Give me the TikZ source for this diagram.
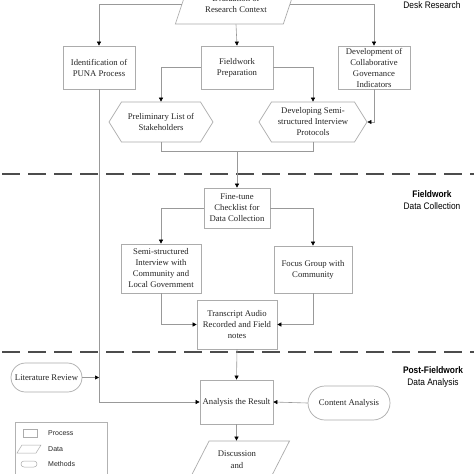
\documentclass[tikz,border=0pt]{standalone}
\usepackage{fontspec}
\setmainfont{Liberation Serif}
\newfontfamily\lblsans[FakeStretch=0.88]{Liberation Sans}
\newfontfamily\legsans{Liberation Sans}
\usetikzlibrary{shapes.geometric,shapes.symbols,shapes.misc,arrows.meta}
\begin{document}
\begin{tikzpicture}[x=1pt,y=-1pt,
  every node/.style={font=\fontsize{8.7}{11}\selectfont, text=black!85, align=center, inner sep=1pt},
  procbox/.style={draw=gray!65, line width=0.7pt, rectangle},
  databox/.style={draw=gray!65, line width=0.7pt, trapezium, trapezium left angle=65, trapezium right angle=115, trapezium stretches=true},
  hexabox/.style={draw=gray!65, line width=0.7pt, signal, signal to=west and east, signal pointer angle=116},
  methodbox/.style={draw=gray!65, line width=0.7pt, rounded rectangle},
  conn/.style={draw=gray!80, line width=0.6pt, -{Triangle[length=4pt,width=4pt,color=black]}},
  plainline/.style={draw=gray!80, line width=0.6pt},
  dashbar/.style={draw=black!70, line width=1.8pt, dash pattern=on 18pt off 8pt, dash phase=-2pt},
  phaselbl/.style={font=\lblsans\fontsize{9.5}{12}\selectfont, text=black},
  legtext/.style={font=\legsans\fontsize{7}{8}\selectfont, text=black!85, anchor=west, inner sep=0pt},
  legshape/.style={draw=gray!65, line width=0.5pt}]
\clip (0,0) rectangle (474,474);
\fill[white] (0,0) rectangle (474,474);

% phase separators
\draw[dashbar] (0,174) -- (474,174);
\draw[dashbar] (0,352) -- (474,352);

% phase labels
\node[phaselbl] (deskl) at (432,5) {Desk Research};
\node[phaselbl] (fieldl) at (432,200) {\textbf{Fieldwork}\\Data Collection};
\node[phaselbl] (postl) at (433,377) {\textbf{Post-Fieldwork}\\Data Analysis};

% desk research
\node[databox, minimum width=122pt, minimum height=40pt] (eval) at (236,4) {Evaluation of\\Research Context};
\node[procbox, minimum width=72pt, minimum height=43pt] (ident) at (99,67.5) {Identification of\\PUNA Process};
\node[procbox, minimum width=72pt, minimum height=43pt] (fprep) at (237,67.5) {Fieldwork\\Preparation};
\node[procbox, minimum width=72pt, minimum height=43pt] (devcg) at (374,67.5) {Development of\\Collaborative\\Governance\\Indicators};
\node[hexabox, minimum width=104pt, minimum height=40pt] (prelim) at (161,122) {Preliminary List of\\Stakeholders};
\node[hexabox, minimum width=108pt, minimum height=40pt] (devsemi) at (313,122) {Developing Semi-\\structured Interview\\Protocols};
\coordinate (merge) at (237,151);

% fieldwork
\node[procbox, minimum width=66pt, minimum height=40pt] (fine) at (237,208) {Fine-tune\\Checklist for\\Data Collection};
\node[procbox, minimum width=80pt, minimum height=49pt] (semi) at (161,268.5) {Semi-structured\\Interview with\\Community and\\Local Government};
\node[procbox, minimum width=78pt, minimum height=47pt] (focus) at (313,269.5) {Focus Group with\\Community};
\node[procbox, minimum width=80pt, minimum height=49pt] (trans) at (237,324.5) {Transcript Audio\\Recorded and Field\\notes};

% post-fieldwork
\node[procbox, minimum width=73pt, minimum height=44pt] (anal) at (236.5,402) {Analysis the Result};
\node[methodbox, minimum width=73pt, minimum height=29pt] (lit) at (46.5,377.5) {Literature Review};
\node[methodbox, minimum width=84pt, minimum height=34pt] (content) at (349,403) {Content Analysis};
\node[databox, minimum width=106pt, minimum height=50pt] (disc) at (236.5,466) {};
\node (disctext) at (237,460) {Discussion\\[1pt]and};

% connectors
\draw[conn] (eval.west) -| (ident.north);
\draw[conn] (eval.east) -| (devcg.north);
\draw[conn] (eval.south) -- (fprep.north);
\draw[conn] (fprep.west) -| (prelim.north);
\draw[conn] (fprep.east) -| (devsemi.north);
\draw[conn] (devcg.south) |- (devsemi.east);
\draw[plainline] (prelim.south) |- (merge);
\draw[plainline] (devsemi.south) |- (merge);
\draw[conn] (merge) -- (fine.north);
\draw[conn] (fine.west) -| (semi.north);
\draw[conn] (fine.east) -| (focus.north);
\draw[conn] (semi.south) |- (trans.west);
\draw[conn] (focus.south) |- (trans.east);
\draw[conn] (trans.south) -- (anal.north);
\draw[conn] (ident.south) |- (anal.west);
\draw[conn] (lit.east) -- (lit.east -| ident.south);
\draw[conn] (content.west) -- (anal.east);
\draw[conn] (anal.south) -- (disc.north);

% legend
\draw[legshape, draw=gray!60] (15,422) rectangle (107,490);
\draw[legshape] (23,429) rectangle (37,437);
\node[legtext] (lproc) at (48,433) {Process};
\draw[legshape] (17,453) -- (22,445) -- (41,445) -- (36,453) -- cycle;
\node[legtext] (ldata) at (48,449) {Data};
\draw[legshape, rounded corners=3pt] (21,461) rectangle (37,467);
\node[legtext] (lmeth) at (48,464) {Methods};
\end{tikzpicture}
\end{document}
